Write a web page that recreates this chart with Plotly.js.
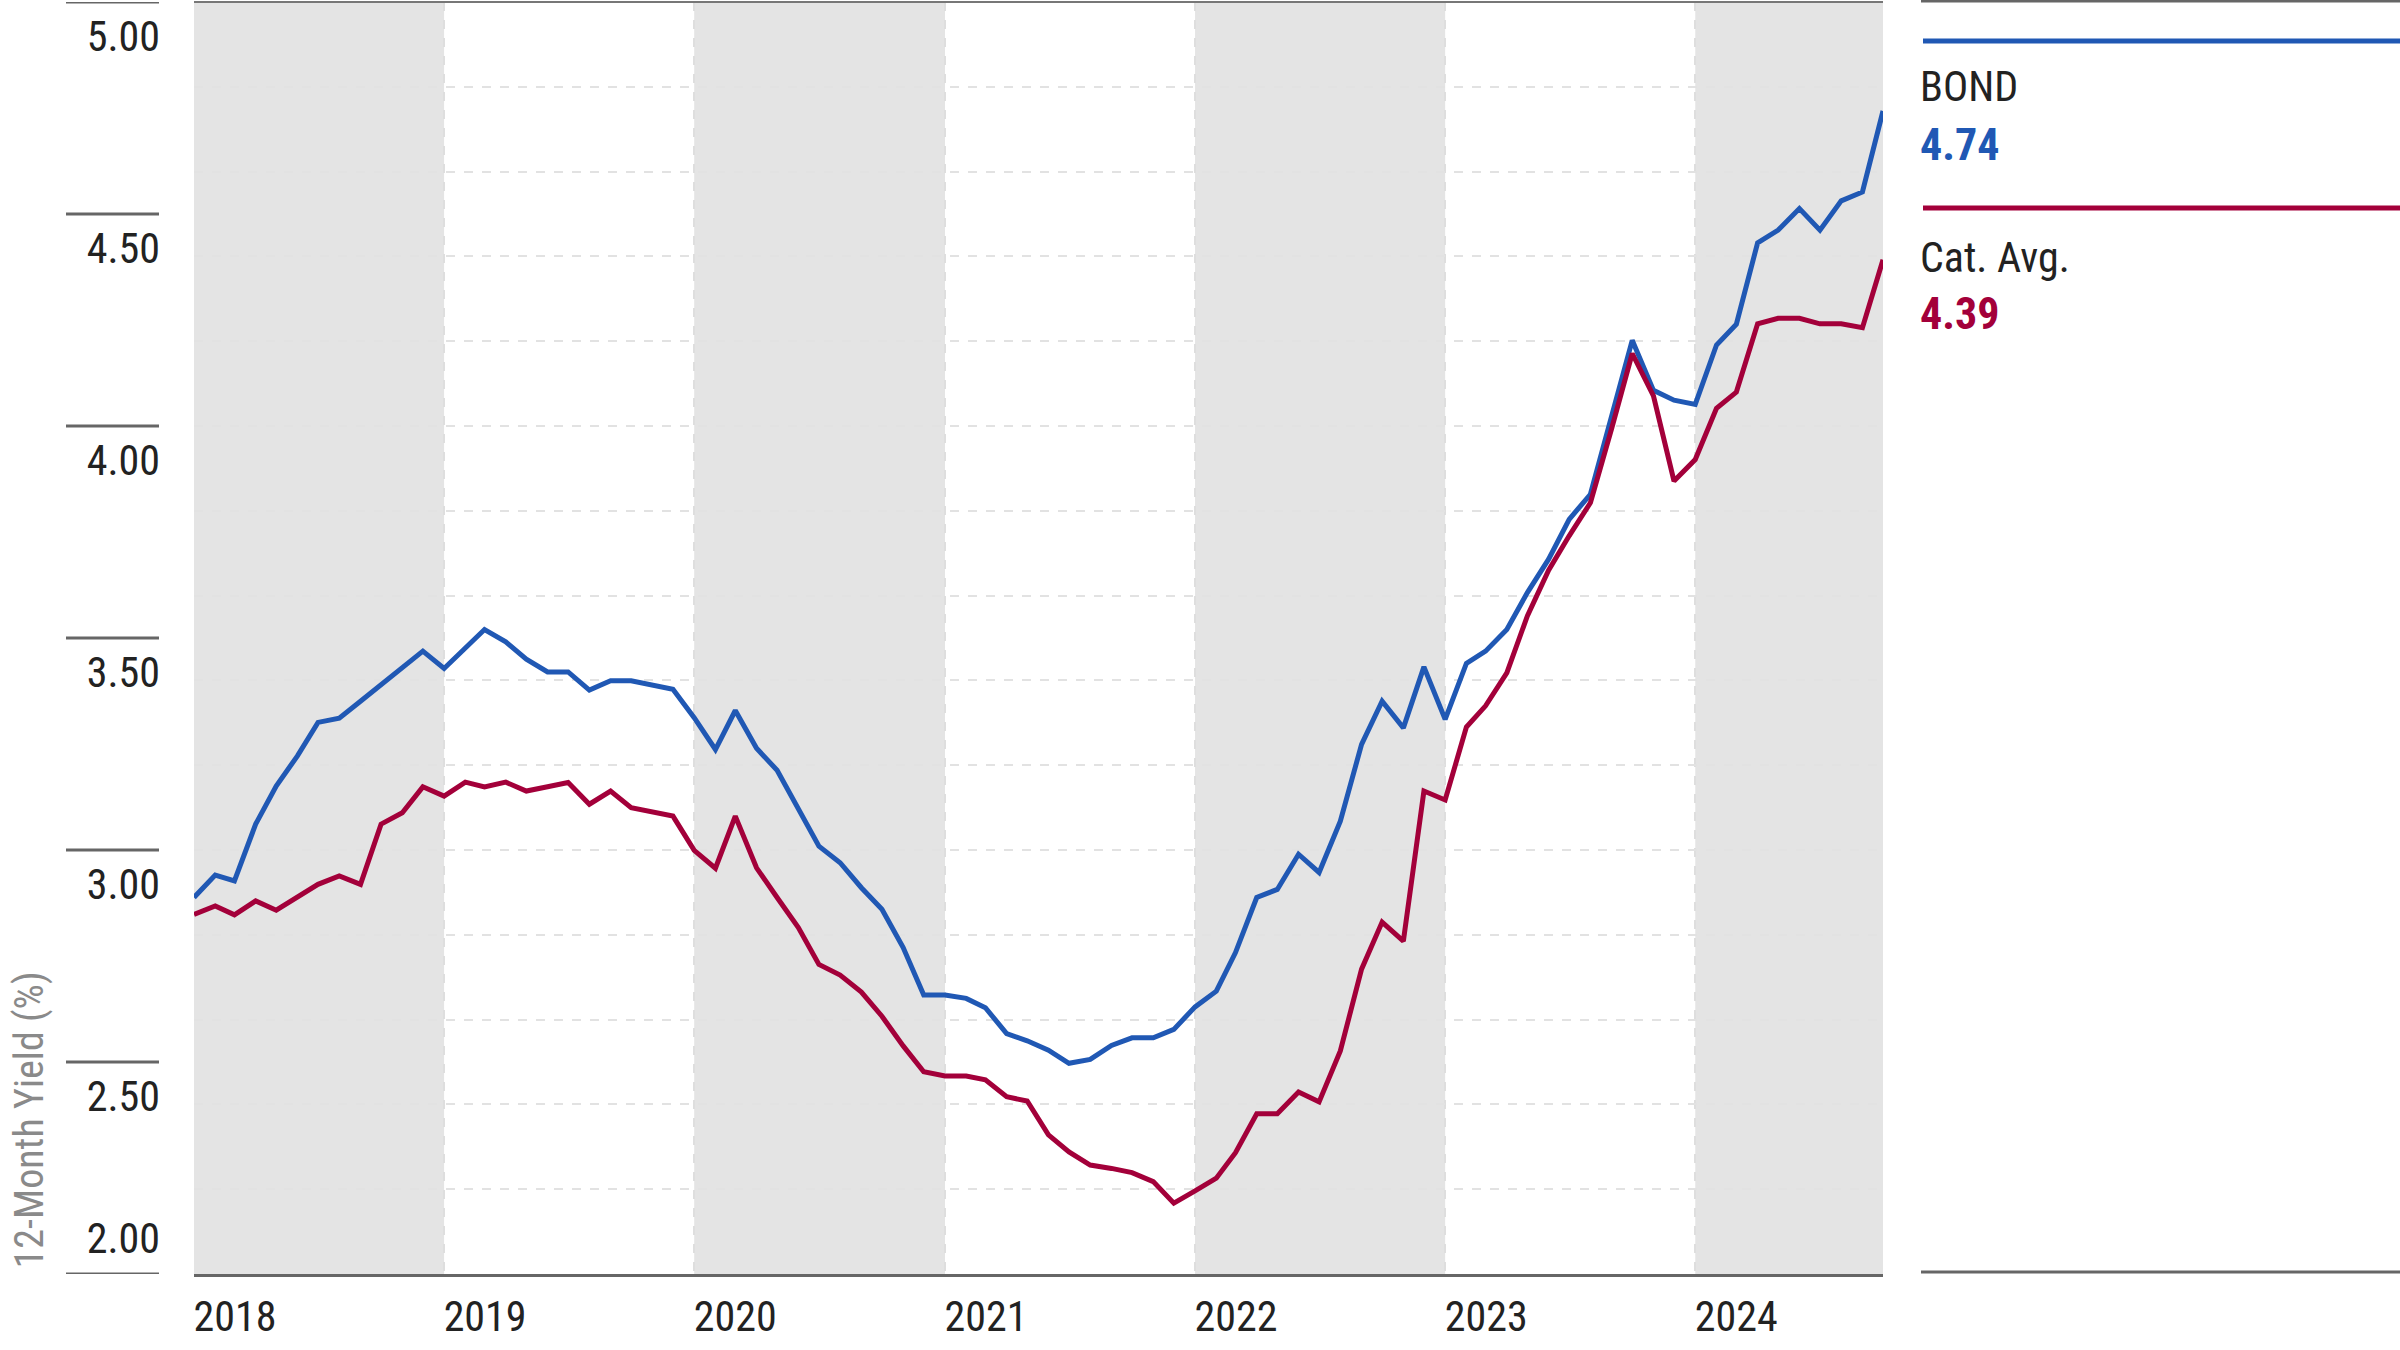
<!DOCTYPE html>
<html>
<head>
<meta charset="utf-8">
<script src="https://cdn.plot.ly/plotly-3.0.1.min.js"></script>
<style>
  html, body { margin: 0; padding: 0; background: #ffffff; }
  #chart { width: 2400px; height: 1350px; }
</style>
</head>
<body>
<div id="chart"></div>
<script>
// ---------------- DATA ----------------
const startYear = 2018;           // first month: Jan 2018, monthly points
const seriesNames = ['BOND', 'Cat. Avg.'];
const latestValues = ['4.74', '4.39'];

const bondYield = [
  2.888, 2.941, 2.927, 3.061, 3.151, 3.222, 3.301, 3.311, 3.351, 3.391, 3.430, 3.469,
  3.428, 3.477, 3.520, 3.491, 3.450, 3.420, 3.420, 3.377, 3.399, 3.399, 3.388, 3.379,
  3.312, 3.237, 3.329, 3.240, 3.188, 3.100, 3.009, 2.970, 2.911, 2.860, 2.770, 2.658,
  2.658, 2.650, 2.628, 2.567, 2.550, 2.528, 2.497, 2.506, 2.539, 2.557, 2.557, 2.577,
  2.630, 2.667, 2.758, 2.888, 2.907, 2.990, 2.947, 3.068, 3.249, 3.351, 3.288, 3.432,
  3.308, 3.440, 3.469, 3.520, 3.607, 3.686, 3.780, 3.839, 4.026, 4.202, 4.084, 4.061,
  4.051, 4.191, 4.240, 4.432, 4.462, 4.513, 4.462, 4.531, 4.552, 4.743
];

const catAvgYield = [
  2.848, 2.868, 2.847, 2.880, 2.858, 2.889, 2.919, 2.939, 2.919, 3.061, 3.088, 3.149,
  3.127, 3.160, 3.149, 3.160, 3.139, 3.149, 3.159, 3.108, 3.139, 3.100, 3.090, 3.080,
  2.999, 2.957, 3.080, 2.958, 2.888, 2.817, 2.730, 2.705, 2.665, 2.608, 2.538, 2.477,
  2.467, 2.467, 2.458, 2.418, 2.408, 2.328, 2.288, 2.257, 2.249, 2.239, 2.218, 2.167,
  2.196, 2.226, 2.286, 2.378, 2.378, 2.429, 2.406, 2.526, 2.719, 2.830, 2.785, 3.139,
  3.118, 3.290, 3.340, 3.418, 3.552, 3.660, 3.741, 3.819, 3.994, 4.171, 4.071, 3.870,
  3.921, 4.042, 4.080, 4.241, 4.254, 4.254, 4.241, 4.241, 4.232, 4.392
];

const yearLabels = ['2018', '2019', '2020', '2021', '2022', '2023', '2024'];
const shadedYears = [2018, 2020, 2022, 2024];
const yTickVals = [2.5, 3.0, 3.5, 4.0, 4.5, 5.0];
const yTickText = ['2.50', '3.00', '3.50', '4.00', '4.50', '5.00'];
const yBottomVal = [2.0];
const yBottomText = ['2.00'];
const yTickLineVals = [2.0, 2.5, 3.0, 3.5, 4.0, 4.5, 5.0];
const yGridVals = [2.2, 2.4, 2.6, 2.8, 3.0, 3.2, 3.4, 3.6, 3.8, 4.0, 4.2, 4.4, 4.6, 4.8];
const yRange = [2.0, 5.0];

// ---------------- STYLE ----------------
const W = 2400, H = 1350;
const BLUE = '#2058b4';
const RED = '#a3003a';
const SHADE = '#e4e4e4';
const AXIS = '#666666';
const TEXT = '#222222';
const COND = "'Roboto Condensed', 'Liberation Sans Narrow', 'Arial Narrow', 'DejaVu Sans Condensed', Roboto, sans-serif";

const months = bondYield.map((_, i) => {
  const y = startYear + Math.floor(i / 12);
  const m = (i % 12) + 1;
  return y + '-' + String(m).padStart(2, '0') + '-01';
});
const yearTicks = yearLabels.map(y => y + '-01-01');
const lastDate = months[months.length - 1];

const plotL = 194, plotR = 1883, plotT = 2, plotB = 1274;
const px = x => x / W;                                   // margins l=r=0
const py = y => (plotB - y) / (plotB - plotT);          // paper y relative to plot area

const traces = [
  {
    x: months, y: bondYield, type: 'scatter', mode: 'lines', name: seriesNames[0],
    line: { color: BLUE, width: 5, shape: 'linear' }, xaxis: 'x', yaxis: 'y', hoverinfo: 'skip'
  },
  {
    x: months, y: catAvgYield, type: 'scatter', mode: 'lines', name: seriesNames[1],
    line: { color: RED, width: 5, shape: 'linear' }, xaxis: 'x', yaxis: 'y', hoverinfo: 'skip'
  }
];

const shapes = [];
// shaded alternate years
shadedYears.forEach(yr => {
  const x0 = yr + '-01-01';
  const next = (yr + 1) + '-01-01';
  const x1 = next > lastDate ? lastDate : next;
  shapes.push({
    type: 'rect', xref: 'x', yref: 'y', x0: x0, x1: x1, y0: yRange[0], y1: yRange[1],
    fillcolor: SHADE, line: { width: 0 }, layer: 'below'
  });
});
// left tick lines
yTickLineVals.forEach(v => {
  shapes.push({
    type: 'line', xref: 'paper', yref: 'y', x0: px(66), x1: px(159), y0: v, y1: v,
    line: { color: AXIS, width: 3 }
  });
});
// top border of plot
shapes.push({ type: 'line', xref: 'paper', yref: 'paper', x0: px(plotL), x1: px(plotR), y0: 1, y1: 1,
  line: { color: '#777777', width: 2 } });
// right panel top & bottom lines
shapes.push({ type: 'line', xref: 'paper', yref: 'paper', x0: px(1921), x1: 1, y0: py(1), y1: py(1),
  line: { color: AXIS, width: 3 } });
shapes.push({ type: 'line', xref: 'paper', yref: 'paper', x0: px(1921), x1: 1, y0: py(1272), y1: py(1272),
  line: { color: AXIS, width: 3 } });
// legend colour bars
shapes.push({ type: 'line', xref: 'paper', yref: 'paper', x0: px(1923), x1: 1, y0: py(41), y1: py(41),
  line: { color: BLUE, width: 5 } });
shapes.push({ type: 'line', xref: 'paper', yref: 'paper', x0: px(1923), x1: 1, y0: py(208), y1: py(208),
  line: { color: RED, width: 5 } });

const annotations = [
  { text: seriesNames[0], xref: 'paper', yref: 'paper', x: px(1918), y: py(87), xanchor: 'left', yanchor: 'middle',
    showarrow: false, font: { family: COND, size: 42, color: TEXT } },
  { text: '<b>' + latestValues[0] + '</b>', xref: 'paper', yref: 'paper', x: px(1918), y: py(145), xanchor: 'left', yanchor: 'middle',
    showarrow: false, font: { family: COND, size: 44, color: BLUE } },
  { text: seriesNames[1], xref: 'paper', yref: 'paper', x: px(1918), y: py(257), xanchor: 'left', yanchor: 'middle',
    showarrow: false, font: { family: COND, size: 42, color: TEXT } },
  { text: '<b>' + latestValues[1] + '</b>', xref: 'paper', yref: 'paper', x: px(1918), y: py(314), xanchor: 'left', yanchor: 'middle',
    showarrow: false, font: { family: COND, size: 44, color: RED } },
  { text: '12-Month Yield (%)', xref: 'paper', yref: 'paper', x: px(29), y: py(1271), xanchor: 'center', yanchor: 'bottom',
    textangle: -90, showarrow: false, font: { family: COND, size: 40, color: '#8a8a8a' } }
];

const tickFont = { family: COND, size: 42, color: TEXT };

const layout = {
  width: W, height: H,
  paper_bgcolor: '#ffffff', plot_bgcolor: 'rgba(0,0,0,0)',
  margin: { l: 0, r: 0, t: plotT, b: H - plotB, pad: 0 },
  showlegend: false,
  hovermode: false,
  xaxis: {
    type: 'date', domain: [px(plotL), px(plotR)], range: [months[0], lastDate],
    tickmode: 'array', tickvals: yearTicks, ticktext: yearLabels,
    ticks: '', showgrid: true, gridcolor: '#dedede', gridwidth: 2, griddash: 'dash',
    showline: true, linecolor: AXIS, linewidth: 3, zeroline: false,
    tickfont: tickFont, ticklabelshift: 41, ticklabelstandoff: 4, fixedrange: true
  },
  yaxis: {
    range: yRange, tickmode: 'array', tickvals: yGridVals, showticklabels: false,
    ticks: '', showgrid: true, gridcolor: '#e2e2e2', gridwidth: 2, griddash: 'dash',
    showline: false, zeroline: false, fixedrange: true
  },
  yaxis2: {
    overlaying: 'y', anchor: 'x', side: 'left', range: yRange,
    tickmode: 'array', tickvals: yTickVals, ticktext: yTickText,
    ticks: '', showgrid: false, showline: false, zeroline: false,
    tickfont: tickFont, ticklabelshift: 34, ticklabelstandoff: 33, fixedrange: true
  },
  yaxis3: {
    overlaying: 'y', anchor: 'x', side: 'left', range: yRange,
    tickmode: 'array', tickvals: yBottomVal, ticktext: yBottomText,
    ticks: '', showgrid: false, showline: false, zeroline: false,
    tickfont: tickFont, ticklabelshift: -36, ticklabelstandoff: 33, fixedrange: true
  },
  shapes: shapes,
  annotations: annotations
};

// invisible helper traces so the label axes are drawn
traces.push({ x: [months[0]], y: [yRange[0]], type: 'scatter', mode: 'markers', marker: { opacity: 0 },
  xaxis: 'x', yaxis: 'y2', hoverinfo: 'skip', showlegend: false });
traces.push({ x: [months[0]], y: [yRange[0]], type: 'scatter', mode: 'markers', marker: { opacity: 0 },
  xaxis: 'x', yaxis: 'y3', hoverinfo: 'skip', showlegend: false });

Plotly.newPlot('chart', traces, layout, { staticPlot: true, displayModeBar: false });
</script>
</body>
</html>
